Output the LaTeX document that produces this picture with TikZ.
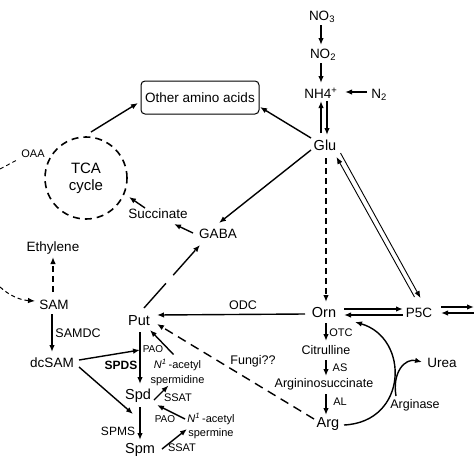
\documentclass[tikz,border=0pt]{standalone}
\usepackage{fontspec}
\setmainfont{Liberation Sans}
\usetikzlibrary{arrows.meta,calc}
\begin{document}
\begin{tikzpicture}[x=1pt,y=-1pt,
  big/.style={font=\fontsize{14.5}{16}\selectfont, inner sep=0pt},
  med/.style={font=\fontsize{13.5}{15}\selectfont, inner sep=0pt},
  lab/.style={font=\fontsize{12.5}{14}\selectfont, inner sep=0pt},
  sml/.style={font=\fontsize{11}{13}\selectfont, inner sep=0pt},
  tny/.style={font=\fontsize{10}{12}\selectfont, inner sep=0pt},
  arr/.style={-{Latex[length=7pt,width=5.5pt]}, line width=1.4pt},
  dsh/.style={arr, dash pattern=on 6pt off 4pt},
  thinarr/.style={-{Latex[length=7pt,width=5.5pt]}, line width=0.9pt},
]
\useasboundingbox (0,0) rectangle (474,474);
% nodes
\node[med] (no3) at (322,17) {NO\textsubscript{3}};
\node[med] (no2) at (323,55) {NO\textsubscript{2}};
\node[med] (nh4) at (321,93) {NH4\textsuperscript{+}};
\node[med] (n2) at (379,95) {N\textsubscript{2}};
\node[big] (glu) at (325,145) {Glu};
\node[med, draw, rounded corners=4pt, line width=1pt, minimum width=118pt, minimum height=33pt] (other) at (200,97.5) {Other amino acids};
\node[draw, circle, line width=1.6pt, dash pattern=on 7pt off 5pt, minimum size=82pt, align=center, font=\fontsize{15}{17}\selectfont, inner sep=0pt] (tca) at (86,178) {TCA\\cycle};
\node[sml] (oaa) at (33,154) {OAA};
\node[med] (succ) at (158,214) {Succinate};
\node[med] (gaba) at (218,234) {GABA};
\node[med] (eth) at (53,248) {Ethylene};
\node[med] (sam) at (54,305) {SAM};
\node[lab] (samdc) at (78,333) {SAMDC};
\node[med] (dcsam) at (52,363) {dcSAM};
\node[big] (put) at (139,321) {Put};
\node[font=\fontsize{12}{14}\selectfont\bfseries, inner sep=0pt] (spds) at (121,365) {SPDS};
\node[big] (spd) at (138,396) {Spd};
\node[font=\fontsize{12}{14}\selectfont, inner sep=0pt] (spms) at (118,431) {SPMS};
\node[big] (spm) at (140,450) {Spm};
\node[font=\fontsize{11}{15}\selectfont, inner sep=0pt, align=center] (acspd) at (177.5,372.5) {\textit{N}\textsuperscript{\textit{1}}\hspace{2pt}-acetyl\\spermidine};
\node[tny] (pao1) at (153,349) {PAO};
\node[sml] (ssat1) at (178,398) {SSAT};
\node[font=\fontsize{11}{14}\selectfont, inner sep=0pt, align=center] (acspm) at (211,426) {\textit{N}\textsuperscript{\textit{1}}\hspace{2pt}-acetyl\\spermine};
\node[tny] (pao2) at (165,419) {PAO};
\node[sml] (ssat2) at (182,448) {SSAT};
\node[lab] (odc) at (243,305) {ODC};
\node[big] (orn) at (324,313) {Orn};
\node[med] (p5c) at (419,313) {P5C};
\node[sml] (otc) at (341,333) {OTC};
\node[lab] (citr) at (326,350) {Citrulline};
\node[sml] (as) at (340,368) {AS};
\node[lab] (argsuc) at (324,384) {Argininosuccinate};
\node[sml] (al) at (340,402) {AL};
\node[big] (arg) at (328,424) {Arg};
\node[lab] (fungi) at (253,361) {Fungi??};
\node[med] (urea) at (442,363) {Urea};
\node[lab] (arginase) at (415,405) {Arginase};
% free ends
\coordinate (oaaL) at (0,169);
\coordinate (samL) at (0,287);
\coordinate (r1) at (474,307);
\coordinate (r2) at (474,313);
% connectors
\draw[arr] ($(no3)+(-1,8)$) -- ($(no2)+(-2,-10)$);
\draw[arr] ($(no2)+(-2,8)$) -- ($(nh4)+(0,-10)$);
\draw[arr] ($(n2)+(-12,-3)$) -- ($(nh4)+(24,-1)$);
\draw[arr] ($(glu)+(-4,-12)$) -- ($(nh4)+(0,8)$);
\draw[arr] ($(nh4)+(6,8)$) -- ($(glu)+(2,-10)$);
\draw[arr] ($(glu)+(-14,-7)$) -- ($(other)+(60,9.5)$);
\draw[arr] ($(tca)+(5,-46)$) -- ($(other)+(-62,5.5)$);
\draw[line width=0.9pt, dash pattern=on 4pt off 3pt] (oaaL) -- ($(oaa)+(-16,6)$);
\draw[arr] ($(succ)+(-13,-6)$) -- ($(tca)+(43,19)$);
\draw[arr] ($(gaba)+(-25,-1)$) -- ($(succ)+(16,10)$);
\draw[arr] ($(glu)+(-14,5)$) -- ($(gaba)+(1,-11)$);
\draw[arr, dash pattern=on 33pt off 11pt] ($(put)+(5,-13)$) -- ($(gaba)+(-18,11)$);
\draw[dsh] ($(sam)+(-1,-13)$) -- ($(eth)+(0,9)$);
\draw[-{Latex[length=7pt,width=5.5pt]}, line width=1pt, dash pattern=on 4pt off 3pt] (samL) .. controls (10,296) and (20,300) .. ($(sam)+(-19,-4)$);
\draw[arr] ($(sam)+(-2,9)$) -- ($(dcsam)+(0,-11)$);
\draw[arr] ($(dcsam)+(27,-3)$) -- ($(put)+(1,29)$);
\draw[arr] ($(dcsam)+(27,4)$) -- ($(spm)+(-7,-36)$);
\draw[arr] ($(put)+(1,11)$) -- ($(spd)+(2,-12)$);
\draw[arr] ($(spd)+(2,11)$) -- ($(spm)+(0,-10)$);
\draw[arr] ($(acspd)+(-4,-18)$) -- ($(put)+(11,9)$);
\draw[arr] ($(spd)+(16,4)$) -- ($(acspd)+(-9,13)$);
\draw[arr] ($(acspm)+(-26,-7)$) -- ($(spd)+(19,9)$);
\draw[arr] ($(spm)+(22,-1)$) -- ($(acspm)+(-24,3)$);
\draw[arr] ($(orn)+(-19,1)$) -- ($(put)+(18,-6)$);
\draw[dsh] ($(glu)+(1,13)$) -- ($(orn)+(2,-11)$);
\draw[thinarr] ($(p5c)+(-4.5,-16)$) -- ($(glu)+(11.5,12)$);
\draw[thinarr] ($(glu)+(15.5,8)$) -- ($(p5c)+(1.5,-15)$);
\draw[arr] ($(orn)+(20,-4)$) -- ($(p5c)+(-16,-4)$);
\draw[arr] ($(p5c)+(-16,2)$) -- ($(orn)+(20,2)$);
\draw[arr] ($(p5c)+(22,-6)$) -- (r1);
\draw[arr] (r2) -- ($(p5c)+(22,0)$);
\draw[arr] ($(orn)+(2,10)$) -- ($(citr)+(0,-9)$);
\draw[arr] ($(citr)+(0,10)$) -- ($(argsuc)+(2,-8)$);
\draw[arr] ($(argsuc)+(2,10)$) -- ($(arg)+(-2,-9)$);
\draw[dsh, dash pattern=on 9pt off 6pt] ($(arg)+(-14,-5)$) -- ($(put)+(18,3)$);
\draw[arr] ($(arg)+(16,1)$) .. controls (408,422) and (410,338) .. ($(orn)+(31,9)$);
\draw[arr] ($(arginase)+(-19,-9)$) .. controls (392,372) and (405,358) .. ($(urea)+(-20,-1)$);
\end{tikzpicture}
\end{document}
